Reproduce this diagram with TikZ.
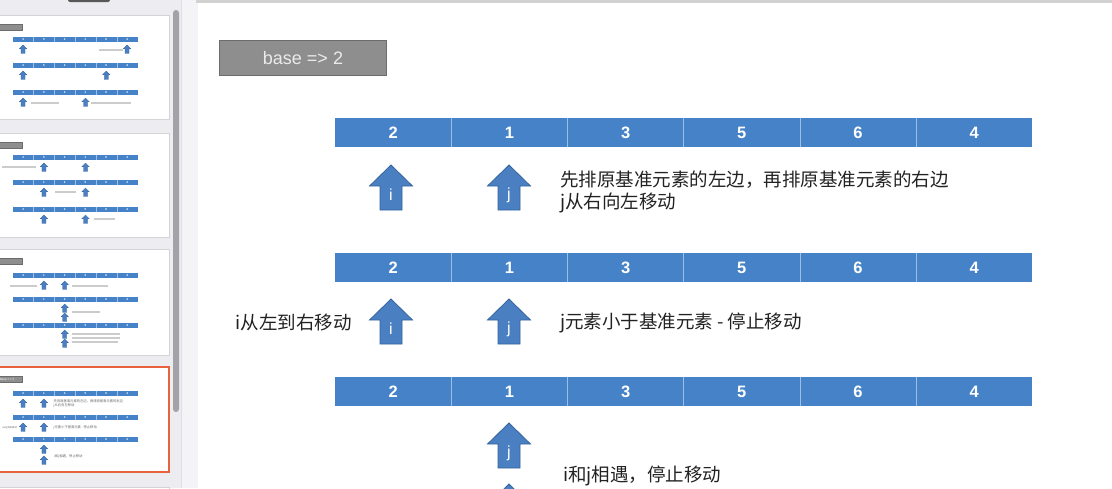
\documentclass[tikz,border=0pt]{standalone}
\usepackage{fontspec}
\setmainfont{Liberation Sans}
\newfontfamily\cjk{Noto Sans CJK SC}
\definecolor{cellblue}{HTML}{4682C8}
\definecolor{sepblue}{HTML}{9DBFE6}
\definecolor{arrfill}{HTML}{4A7FC2}
\definecolor{arredge}{HTML}{34649E}
\definecolor{basegray}{HTML}{8E8E8E}
\definecolor{baseedge}{HTML}{6C6C6C}
\definecolor{sidebg}{HTML}{EDEDF1}
\definecolor{stripbg}{HTML}{F4F4F7}
\definecolor{cardedge}{HTML}{D3D3D8}
\definecolor{selorange}{HTML}{E8623E}
\definecolor{scrollc}{HTML}{A2A2A8}
\definecolor{txtc}{HTML}{222222}

\newcommand\MiniBar[3]{%
  \fill[cellblue] (12.7,#2) rectangle (137.7,#2+5);
  \foreach \d [count=\k] in {#3} {\node[minidigit] (#1-\k) at (2.3+20.8*\k,#2+2.5) {\d};}
  \foreach \k in {1,...,5} {\draw[sepblue,line width=0.3pt] (12.7+20.8*\k,#2) -- ++(0,5);}
}
\newcommand\MiniArr[2]{%
  \path[miniarr] (#1,#2) -- ++(3.75,3.8) -- ++(-1.75,0) -- ++(0,4.6) -- ++(-4,0) -- ++(0,-4.6) -- ++(-1.75,0) -- cycle;}
\newcommand\MiniTxt[3]{\draw[minitxt] (#1,#2) -- (#3,#2);}
\newcommand\MiniBase[1]{\path[minibase] (-8,#1+9) rectangle (22,#1+15);}

\begin{document}
\begin{tikzpicture}[x=1pt,y=-1pt,
  cell/.style={fill=cellblue, minimum width=116.17pt, minimum height=29pt, inner sep=0pt,
    anchor=north west, text=white, font=\bfseries\fontsize{16.5}{16.5}\selectfont},
  sep/.style={draw=sepblue, line width=1pt},
  arrbody/.style={fill=arrfill, draw=arredge, line width=0.8pt},
  arrlbl/.style={text=white, font=\fontsize{16}{16}\selectfont, inner sep=0pt},
  cjktext/.style={font=\cjk\fontsize{18.5}{22}\selectfont, inner sep=0pt, text=txtc},
  basebox/.style={fill=basegray, draw=baseedge, line width=1pt, minimum width=167pt,
    minimum height=35pt, inner sep=0pt, anchor=north west, text=white!92!black,
    font=\fontsize{18}{18}\selectfont},
  uparr/.pic={\path[arrbody] (0,0) -- (21.5,21) -- (11,21) -- (11,45) -- (-11,45) -- (-11,21) -- (-21.5,21) -- cycle;
    \node[arrlbl] (-lbl) at (0,30) {#1};},
  uparrbare/.pic={\path[arrbody] (0,0) -- (21.5,21) -- (11,21) -- (11,45) -- (-11,45) -- (-11,21) -- (-21.5,21) -- cycle;},
  minidigit/.style={text=white, font=\bfseries\fontsize{3}{3}\selectfont, inner sep=0pt},
  miniarr/.style={fill=arrfill, draw=arredge, line width=0.25pt},
  minitxt/.style={draw=black!20, line width=2pt},
  minibase/.style={fill=basegray, draw=baseedge, line width=0.3pt},
  minicjk/.style={font=\cjk\fontsize{3.3}{4}\selectfont, inner sep=0pt, text=black!60},
  card/.style={fill=white, draw=cardedge, line width=0.8pt},
]
\useasboundingbox (0,0) rectangle (1112,488);
\clip (0,0) rectangle (1112,488);

% ---------- window background ----------
\fill[sidebg] (0,0) rectangle (1112,488);
\fill[stripbg] (181,0) rectangle (198,488);
\draw[black!12, line width=0.6pt] (181,0) -- (181,488);
\fill[black!18] (196,0) rectangle (1112,2.5);
\fill[white] (198,2.5) rectangle (1112,488);
\fill[black!65, rounded corners=2pt] (68,-4) rectangle (110,2);
\fill[scrollc, rounded corners=3pt] (173,10) rectangle (179,412);

% ---------- slide thumbnails ----------
\path[card] (-5,15) rectangle (169,119);
\path[card] (-5,133) rectangle (169,237);
\path[card] (-5,249) rectangle (169,355);
\path[fill=white, draw=selorange, line width=1.3pt] (-5,367) rectangle (169,472);
\path[card] (-5,487) rectangle (169,600);

% card 1
\MiniBase{15}
\MiniBar{ta1}{37}{3,5,2,1,6,4}
\MiniArr{23.1}{45} \MiniArr{127.1}{45} \MiniTxt{99}{50}{123}
\MiniBar{ta2}{63}{3,5,2,1,6,4}
\MiniArr{23.1}{71} \MiniArr{106.3}{71}
\MiniBar{ta3}{90}{3,5,2,1,6,4}
\MiniArr{23.1}{98} \MiniArr{85.5}{98}
\MiniTxt{31}{103}{59} \MiniTxt{91}{103}{131}

% card 2
\MiniBase{133}
\MiniBar{tb1}{155}{3,5,2,1,6,4}
\MiniTxt{2}{167}{36} \MiniArr{43.9}{163} \MiniArr{85.5}{163}
\MiniBar{tb2}{180}{3,1,2,5,6,4}
\MiniArr{43.9}{188} \MiniArr{85.5}{188} \MiniTxt{55}{192}{76}
\MiniBar{tb3}{207}{3,1,2,5,6,4}
\MiniArr{43.9}{215} \MiniArr{85.5}{215} \MiniTxt{94}{219}{115}

% card 3
\MiniBase{249}
\MiniBar{tc1}{273}{3,1,2,5,6,4}
\MiniTxt{10}{286}{37} \MiniArr{43.9}{281} \MiniArr{64.7}{281} \MiniTxt{72}{286}{108}
\MiniBar{tc2}{297}{3,1,2,5,6,4}
\MiniArr{64.7}{304} \MiniArr{64.7}{313} \MiniTxt{72}{312}{100}
\MiniBar{tc3}{323}{2,1,3,5,6,4}
\MiniArr{64.7}{330} \MiniArr{64.7}{339}
\MiniTxt{72}{334}{120} \MiniTxt{72}{338}{120} \MiniTxt{72}{342}{118}

% card 4 (selected: current slide)
\MiniBase{367}
\node[font=\fontsize{3.2}{3.2}\selectfont, text=white, inner sep=0pt] (tdbase) at (7,379) {base => 2};
\MiniBar{td1}{391}{2,1,3,5,6,4}
\MiniArr{23.1}{399} \MiniArr{43.9}{399}
\node[minicjk, anchor=west, align=left] (tdt1) at (53.5,403.5) {先排原基准元素的左边，再排原基准元素的右边\\j从右向左移动};
\MiniBar{td2}{415}{2,1,3,5,6,4}
\node[minicjk, font=\cjk\fontsize{2.3}{3}\selectfont, anchor=east] (tdt2) at (17,427.5) {i从左到右移动};
\MiniArr{23.1}{423} \MiniArr{43.9}{423}
\node[minicjk, anchor=west] (tdt3) at (53.5,427.5) {j元素小于基准元素 - 停止移动};
\MiniBar{td3}{437}{2,1,3,5,6,4}
\MiniArr{43.9}{445} \MiniArr{43.9}{456}
\node[minicjk, anchor=west] (tdt4) at (54,456) {i和j相遇，停止移动};

% ---------- main slide ----------
\node[basebox] (base) at (219,40) {base => 2};

\foreach \r/\yy in {1/118, 2/253, 3/377} {
  \foreach \v [count=\c] in {2,1,3,5,6,4} {
    \node[cell] (c\r\c) at (335+116.17*\c-116.17,\yy) {\v};
  }
  \foreach \c in {1,...,5} {\draw[sep] (c\r\c.north east) -- (c\r\c.south east);}
}

% row 1
\pic (ai1) at (391,165) {uparr=i};
\pic (aj1) at (509,165) {uparr=j};
\node[cjktext, anchor=west, align=left] (t1) at (560,192)
  {先排原基准元素的左边，再排原基准元素的右边\\j从右向左移动};

% row 2
\node[cjktext, anchor=east] (t2) at (352,323) {i从左到右移动};
\pic (ai2) at (391,299) {uparr=i};
\pic (aj2) at (509,299) {uparr=j};
\node[cjktext, anchor=west] (t3) at (560,323) {j元素小于基准元素 - 停止移动};

% row 3
\pic (aj3) at (509,423) {uparr=j};
\pic (ai3) at (509,484) {uparrbare};
\node[cjktext, anchor=west] (t4) at (563,476) {i和j相遇，停止移动};
\end{tikzpicture}
\end{document}
